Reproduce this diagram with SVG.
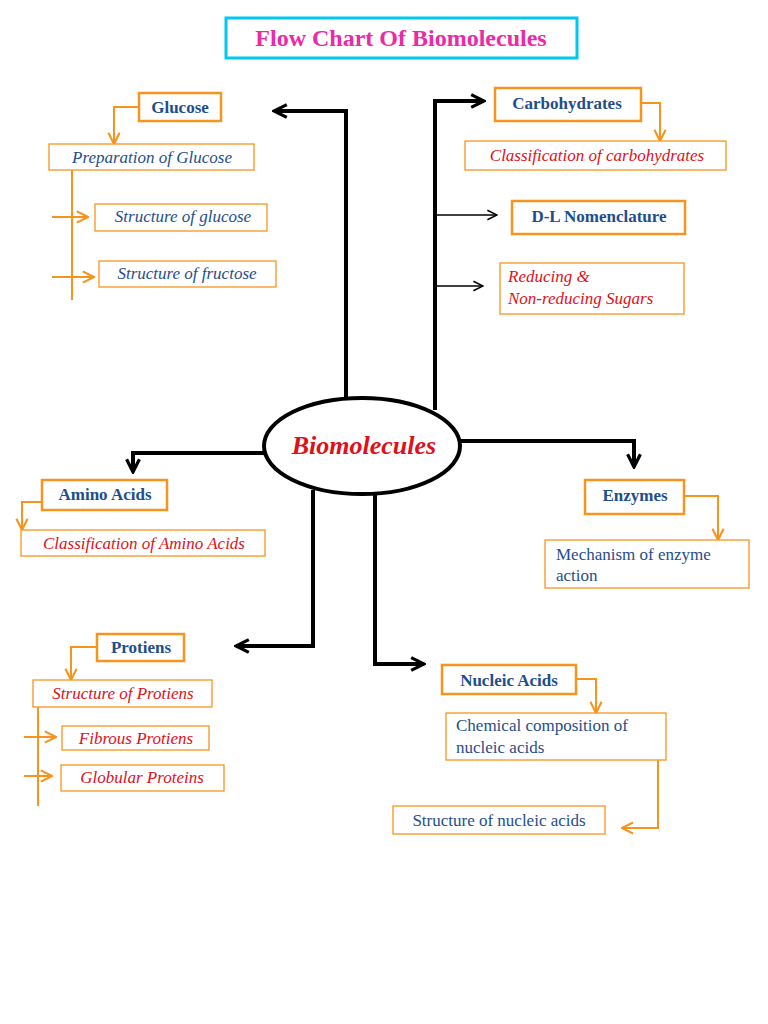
<svg xmlns="http://www.w3.org/2000/svg" width="768" height="1024" viewBox="0 0 768 1024">
<defs>
<marker id="bk" viewBox="0 0 10 10" refX="9" refY="5" markerWidth="4" markerHeight="4" orient="auto"><path d="M1,1 L9,5 L1,9" fill="none" stroke="#000" stroke-width="2"/></marker>
<marker id="tk" viewBox="0 0 10 10" refX="9" refY="5" markerWidth="8" markerHeight="8" orient="auto"><path d="M1,1 L9,5 L1,9" fill="none" stroke="#000" stroke-width="1.3"/></marker>
<marker id="or" viewBox="0 0 10 10" refX="9" refY="5" markerWidth="7" markerHeight="7" orient="auto"><path d="M1,1 L9,5 L1,9" fill="none" stroke="#f7941d" stroke-width="1.5"/></marker>
</defs>
<style>
text{font-family:"Liberation Serif",serif;}
.b{fill:#fff;stroke:#f7941d;stroke-width:1.3}
.bb{fill:#fff;stroke:#f7941d;stroke-width:2.5}
.h{font-weight:bold;fill:#1f4e8c;font-size:17px}
.ib{font-style:italic;fill:#1f4e8c;font-size:17px}
.ir{font-style:italic;fill:#e0101a;font-size:17px}
.nb{fill:#1f4e8c;font-size:17px}
.k{fill:none;stroke:#000;stroke-width:4;marker-end:url(#bk)}
.t{fill:none;stroke:#000;stroke-width:1.5;marker-end:url(#tk)}
.o{fill:none;stroke:#f7941d;stroke-width:2;marker-end:url(#or)}
.ol{fill:none;stroke:#f7941d;stroke-width:2}
</style>
<rect width="768" height="1024" fill="#fff"/>
<g id="title"><rect x="226" y="18" width="351" height="40" fill="#fff" stroke="#00c8f0" stroke-width="3"/><text x="401" y="46" text-anchor="middle" font-size="24" font-weight="bold" fill="#ec2aa4">Flow Chart Of Biomolecules</text></g>
<g id="connectors">
<path class="k" d="M346,400 V111 H274"/>
<path class="k" d="M435,410 V101 H484"/>
<path class="t" d="M437,215 H497"/>
<path class="t" d="M437,286 H483"/>
<path class="k" d="M264,453 H133 V472"/>
<path class="k" d="M461,441 H634 V467"/>
<path class="k" d="M313,490 V646 H236"/>
<path class="k" d="M375,495 V664 H424"/>
<path class="o" d="M139,107 H114 V144"/>
<path class="ol" d="M72,170 V300"/>
<path class="o" d="M52,217 H88"/>
<path class="o" d="M52,277 H94"/>
<path class="o" d="M641,103 H660 V141"/>
<path class="o" d="M42,502 H22 V530"/>
<path class="o" d="M684,496 H718 V540"/>
<path class="o" d="M97,647 H71 V680"/>
<path class="ol" d="M38,707 V806"/>
<path class="o" d="M24,737 H56"/>
<path class="o" d="M24,776 H52"/>
<path class="o" d="M576,679 H596 V713"/>
<path class="o" d="M658,760 V828 H622"/>
</g>
<g id="center"><ellipse cx="362" cy="446" rx="98" ry="48" fill="#fff" stroke="#000" stroke-width="4"/><text x="364" y="454" text-anchor="middle" font-size="26" font-weight="bold" font-style="italic" fill="#e0101a">Biomolecules</text></g>
<g id="glucose"><rect class="bb" x="139" y="93" width="82" height="28"/><text class="h" x="180" y="113" text-anchor="middle">Glucose</text></g>
<g id="prep"><rect class="b" x="49" y="144" width="205" height="26"/><text class="ib" x="152" y="163" text-anchor="middle">Preparation of Glucose</text></g>
<g id="sglu"><rect class="b" x="95" y="204" width="172" height="27"/><text class="ib" x="183" y="222" text-anchor="middle">Structure of glucose</text></g>
<g id="sfru"><rect class="b" x="99" y="261" width="177" height="26"/><text class="ib" x="187" y="279" text-anchor="middle">Structure of fructose</text></g>
<g id="carb"><rect class="bb" x="495" y="88" width="146" height="33"/><text class="h" x="567" y="109" text-anchor="middle">Carbohydrates</text></g>
<g id="classcarb"><rect class="b" x="465" y="141" width="261" height="29"/><text class="ir" x="597" y="161" text-anchor="middle">Classification of carbohydrates</text></g>
<g id="dl"><rect class="bb" x="512" y="201" width="173" height="33"/><text class="h" x="599" y="222" text-anchor="middle">D-L Nomenclature</text></g>
<g id="reducing"><rect class="b" x="500" y="263" width="184" height="51"/><text class="ir" x="508" y="282">Reducing &amp;</text><text class="ir" x="508" y="304">Non-reducing Sugars</text></g>
<g id="amino"><rect class="bb" x="42" y="480" width="125" height="30"/><text class="h" x="105" y="500" text-anchor="middle">Amino Acids</text></g>
<g id="classamino"><rect class="b" x="21" y="530" width="244" height="26"/><text class="ir" x="144" y="549" text-anchor="middle">Classification of Amino Acids</text></g>
<g id="enzymes"><rect class="bb" x="585" y="480" width="99" height="34"/><text class="h" x="635" y="501" text-anchor="middle">Enzymes</text></g>
<g id="mech"><rect class="b" x="545" y="540" width="204" height="48"/><text class="nb" x="556" y="560">Mechanism of enzyme</text><text class="nb" x="556" y="581">action</text></g>
<g id="protiens"><rect class="bb" x="97" y="634" width="87" height="27"/><text class="h" x="141" y="653" text-anchor="middle">Protiens</text></g>
<g id="sprot"><rect class="b" x="33" y="680" width="179" height="27"/><text class="ir" x="123" y="699" text-anchor="middle">Structure of Protiens</text></g>
<g id="fibrous"><rect class="b" x="62" y="726" width="147" height="24"/><text class="ir" x="136" y="744" text-anchor="middle">Fibrous Protiens</text></g>
<g id="globular"><rect class="b" x="61" y="765" width="163" height="26"/><text class="ir" x="142" y="783" text-anchor="middle">Globular Proteins</text></g>
<g id="nucleic"><rect class="bb" x="442" y="665" width="134" height="29"/><text class="h" x="509" y="686" text-anchor="middle">Nucleic Acids</text></g>
<g id="chem"><rect class="b" x="446" y="713" width="220" height="47"/><text class="nb" x="456" y="731">Chemical composition of</text><text class="nb" x="456" y="753">nucleic acids</text></g>
<g id="snuc"><rect class="b" x="393" y="806" width="212" height="28"/><text class="nb" x="499" y="826" text-anchor="middle">Structure of nucleic acids</text></g>
</svg>
